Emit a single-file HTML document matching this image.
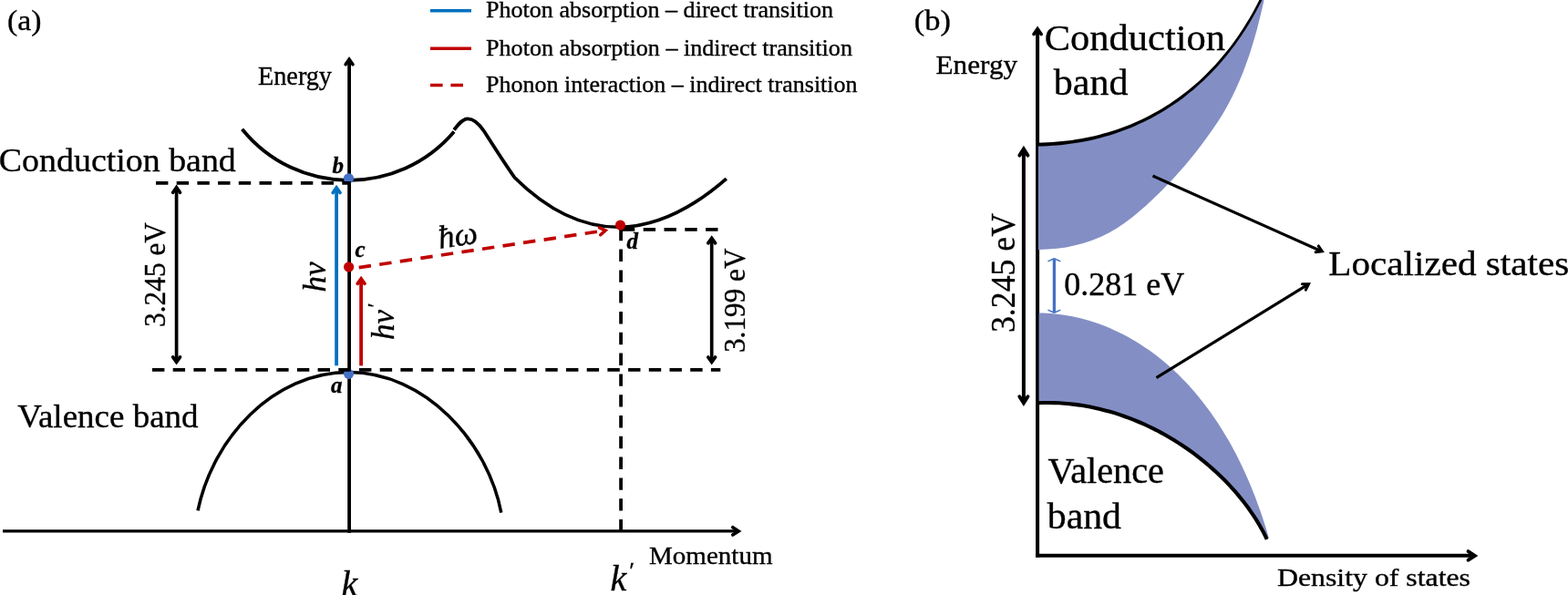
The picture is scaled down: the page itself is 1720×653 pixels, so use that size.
<!DOCTYPE html>
<html lang="en">
<head>
<meta charset="utf-8">
<title>Band structure and density of states</title>
<style>
html,body{margin:0;padding:0;background:#fff;}
body{width:1720px;height:653px;overflow:hidden;}
svg{display:block;}
text{font-family:"Liberation Serif","DejaVu Serif",serif;fill:#000;stroke:#000;stroke-width:0.35px;}
.i{font-style:italic;}
.bi{font-style:italic;font-weight:bold;}
.k{stroke:#000;fill:none;}
</style>
</head>
<body>
<svg width="1720" height="653" viewBox="0 0 1720 653">
<rect width="1720" height="653" fill="#fff"/>

<!-- ================= panel (a) ================= -->
<g id="panel-a">
<line x1="383.1" y1="66.0" x2="383.1" y2="584.7" stroke="#000" stroke-width="3.8"/>
<polyline points="387.00,70.70 383.05,65.04 379.10,70.70" fill="none" stroke="#000" stroke-width="3.6" stroke-linejoin="miter" stroke-miterlimit="10" stroke-linecap="round"/>
<line x1="3.0" y1="582.9" x2="810.0" y2="582.9" stroke="#000" stroke-width="3.3"/>
<polyline points="803.80,587.10 810.21,582.90 803.80,578.70" fill="none" stroke="#000" stroke-width="3.6" stroke-linejoin="miter" stroke-miterlimit="10" stroke-linecap="round"/>
<path class="k" stroke-width="3.8" d="M265.6,141.7 C325.6,216.0 437.3,216.1 498.1,144.5"/>
<path class="k" stroke-width="3.8" d="M498.1,142.5 C503,136 507.5,130.3 513.2,130.3 C520,130.3 525,135 531,144 C540,158 552,177 564.6,195 C644.0,273.6 723.4,260.2 796.8,196.1"/>
<path class="k" stroke-width="3.5" d="M217.0,560.4 C233.5,481.0 299.2,408.6 382.7,408.6 C466.2,408.6 534.8,484.3 549.8,562.6"/>
<line x1="193.6" y1="207.0" x2="193.6" y2="396.0" stroke="#000" stroke-width="3.7"/>
<polyline points="197.50,211.25 193.60,205.78 189.70,211.25" fill="none" stroke="#000" stroke-width="3.7" stroke-linejoin="miter" stroke-miterlimit="10" stroke-linecap="round"/>
<polyline points="189.70,391.85 193.60,397.32 197.50,391.85" fill="none" stroke="#000" stroke-width="3.7" stroke-linejoin="miter" stroke-miterlimit="10" stroke-linecap="round"/>
<line x1="780.7" y1="262.0" x2="780.7" y2="397.0" stroke="#000" stroke-width="3.7"/>
<polyline points="784.60,266.85 780.70,261.38 776.80,266.85" fill="none" stroke="#000" stroke-width="3.7" stroke-linejoin="miter" stroke-miterlimit="10" stroke-linecap="round"/>
<polyline points="776.80,391.95 780.70,397.42 784.60,391.95" fill="none" stroke="#000" stroke-width="3.7" stroke-linejoin="miter" stroke-miterlimit="10" stroke-linecap="round"/>
<line x1="369.1" y1="207.0" x2="369.1" y2="401.3" stroke="#0070C0" stroke-width="3.8"/>
<polyline points="373.00,211.45 369.10,205.98 365.20,211.45" fill="none" stroke="#0070C0" stroke-width="3.7" stroke-linejoin="miter" stroke-miterlimit="10" stroke-linecap="round"/>
<line x1="396.1" y1="307.0" x2="396.1" y2="401.4" stroke="#C00000" stroke-width="3.8"/>
<polyline points="400.00,311.35 396.10,305.88 392.20,311.35" fill="none" stroke="#C00000" stroke-width="3.7" stroke-linejoin="miter" stroke-miterlimit="10" stroke-linecap="round"/>
<line x1="393.7" y1="293.6" x2="662.0" y2="253.2" stroke="#C00000" stroke-width="3.7" stroke-dasharray="13.4 9.4"/>
<polyline points="658.75,257.73 664.16,252.87 657.56,249.82" fill="none" stroke="#C00000" stroke-width="3.5" stroke-linejoin="miter" stroke-miterlimit="10" stroke-linecap="round"/>
<circle cx="382.5" cy="195.8" r="5.6" fill="#4472C4"/>
<circle cx="382.5" cy="410.3" r="5.6" fill="#4472C4"/>
<circle cx="382.6" cy="293" r="5.6" fill="#C00000"/>
<line x1="171.0" y1="200.8" x2="384.8" y2="200.8" stroke="#000" stroke-width="3.8" stroke-dasharray="13.4 9.3"/>
<line x1="167.0" y1="405.8" x2="790.3" y2="405.8" stroke="#000" stroke-width="3.8" stroke-dasharray="13.4 9.3"/>
<line x1="682.9" y1="251.8" x2="788.3" y2="251.8" stroke="#000" stroke-width="3.8" stroke-dasharray="13.4 9.4"/>
<line x1="681.1" y1="250.8" x2="681.1" y2="583.0" stroke="#000" stroke-width="3.8" stroke-dasharray="13.4 9.4"/>
<circle cx="680.5" cy="247" r="5.5" fill="#C00000"/>
<line x1="472.0" y1="11.7" x2="517.0" y2="11.7" stroke="#0070C0" stroke-width="3.5"/>
<line x1="472.0" y1="53.3" x2="517.0" y2="53.3" stroke="#C00000" stroke-width="3.5"/>
<line x1="472.0" y1="93.6" x2="508.0" y2="93.6" stroke="#C00000" stroke-width="3.5" stroke-dasharray="13.6 8.8"/>
<text x="533.0" y="18.5" font-size="25.5" textLength="381.0" lengthAdjust="spacingAndGlyphs">Photon absorption – direct transition</text>
<text x="533.0" y="60.5" font-size="25.5" textLength="402.0" lengthAdjust="spacingAndGlyphs">Photon absorption – indirect transition</text>
<text x="533.0" y="100.5" font-size="25.5" textLength="407.6" lengthAdjust="spacingAndGlyphs">Phonon interaction – indirect transition</text>
<text x="8.0" y="32.5" font-size="32.0" textLength="37.5" lengthAdjust="spacingAndGlyphs">(a)</text>
<text x="283.0" y="92.5" font-size="29.0" textLength="81.0" lengthAdjust="spacingAndGlyphs">Energy</text>
<text x="-1.2" y="188.0" font-size="36.5" textLength="260.0" lengthAdjust="spacingAndGlyphs">Conduction band</text>
<text x="19.3" y="468.5" font-size="36.0" textLength="198.3" lengthAdjust="spacingAndGlyphs">Valence band</text>
<text x="712.0" y="618.7" font-size="28.0" textLength="135.5" lengthAdjust="spacingAndGlyphs">Momentum</text>
<text x="374.5" y="654.0" font-size="40.0" class="i">k</text>
<text x="669.5" y="647.5" font-size="40.0" class="i">k<tspan font-size="26" dy="-13" dx="1.5">′</tspan></text>
<text x="364.5" y="190.3" font-size="25.0" class="bi">b</text>
<text x="389.5" y="282.0" font-size="25.0" class="bi">c</text>
<text x="687.5" y="273.0" font-size="25.0" class="bi">d</text>
<text x="363.0" y="431.0" font-size="25.0" class="bi">a</text>
<text transform="translate(482.3,273.0) rotate(-8.5)" font-size="36.0" class="i">ħω</text>
<text transform="translate(180.5,359.0) rotate(-90.0)" font-size="34.0" textLength="115.0" lengthAdjust="spacingAndGlyphs">3.245 eV</text>
<text transform="translate(817.0,387.0) rotate(-90.0)" font-size="34.0" textLength="114.5" lengthAdjust="spacingAndGlyphs">3.199 eV</text>
<text transform="translate(357.0,320.5) rotate(-90.0)" font-size="35.0" class="i">hν</text>
<text transform="translate(431.5,373.0) rotate(-90.0)" font-size="35.0" class="i">hν<tspan font-size="24" dy="-13" dx="1">′</tspan></text>
</g>
<!-- ================= panel (b) ================= -->
<g id="panel-b">
<line x1="1138.1" y1="33.0" x2="1138.1" y2="611.5" stroke="#000" stroke-width="4.0"/>
<polyline points="1142.15,37.55 1138.10,31.81 1134.05,37.55" fill="none" stroke="#000" stroke-width="3.7" stroke-linejoin="miter" stroke-miterlimit="10" stroke-linecap="round"/>
<line x1="1136.1" y1="609.8" x2="1617.0" y2="609.8" stroke="#000" stroke-width="4.0"/>
<polyline points="1610.55,614.65 1617.83,609.90 1610.55,605.15" fill="none" stroke="#000" stroke-width="3.9" stroke-linejoin="miter" stroke-miterlimit="10" stroke-linecap="round"/>
<polygon fill="#838FC4" points="1139.0,158.6 1143.7,158.5 1149.1,158.2 1154.4,157.9 1159.8,157.5 1165.1,157.0 1170.4,156.4 1175.6,155.7 1180.8,155.0 1185.9,154.1 1191.0,153.1 1196.1,152.1 1201.1,150.9 1206.1,149.7 1211.0,148.4 1215.9,147.0 1220.8,145.5 1225.6,143.9 1230.3,142.2 1235.1,140.4 1239.7,138.6 1244.4,136.6 1248.9,134.6 1253.5,132.5 1258.0,130.3 1262.4,128.0 1266.8,125.6 1271.2,123.1 1275.5,120.6 1279.7,118.0 1283.9,115.2 1288.1,112.4 1292.2,109.6 1296.2,106.6 1300.2,103.5 1304.2,100.4 1308.1,97.2 1311.9,93.9 1315.7,90.5 1319.4,87.0 1323.1,83.5 1326.7,79.9 1330.3,76.2 1333.8,72.4 1337.3,68.5 1340.7,64.6 1344.1,60.6 1347.4,56.5 1350.6,52.3 1353.8,48.0 1356.9,43.7 1360.0,39.3 1363.0,34.8 1365.9,30.2 1368.8,25.6 1371.6,20.8 1374.4,16.0 1377.1,11.2 1379.7,6.2 1382.3,1.2 1384.0,-2.5 1386.9,-2.5 1386.0,2.5 1383.8,12.3 1381.4,22.1 1378.9,31.9 1376.2,41.6 1373.3,51.3 1370.2,61.0 1366.8,70.5 1363.3,80.0 1359.4,89.3 1355.3,98.5 1350.9,107.6 1346.2,116.5 1341.2,125.2 1335.8,133.7 1330.2,142.0 1324.3,150.3 1318.3,158.4 1312.2,166.4 1305.9,174.2 1299.5,182.0 1292.8,189.6 1286.1,197.0 1279.1,204.3 1272.0,211.5 1264.7,218.5 1257.3,225.4 1249.7,232.1 1242.0,238.6 1233.9,244.6 1225.6,250.2 1216.9,255.3 1207.9,259.7 1198.6,263.5 1189.1,266.7 1179.3,269.3 1169.4,271.4 1159.4,272.8 1149.3,273.6 1139.0,273.9"/>
<polygon fill="#838FC4" points="1139.6,343.5 1143.9,343.6 1148.2,343.7 1152.6,344.0 1157.0,344.4 1161.4,344.9 1165.9,345.5 1170.4,346.2 1175.0,347.0 1179.6,348.0 1184.2,349.0 1188.9,350.2 1193.6,351.6 1198.3,353.0 1203.0,354.6 1207.8,356.3 1212.5,358.1 1217.3,360.1 1222.0,362.2 1226.8,364.4 1231.6,366.8 1236.4,369.3 1241.1,372.0 1245.9,374.8 1250.7,377.8 1255.4,380.9 1260.2,384.1 1264.9,387.5 1269.6,391.1 1274.3,394.8 1279.0,398.7 1283.6,402.8 1288.2,407.0 1292.8,411.3 1297.3,415.9 1301.8,420.6 1306.3,425.5 1310.7,430.5 1315.0,435.8 1319.4,441.2 1323.6,446.8 1327.9,452.5 1332.0,458.5 1336.1,464.6 1340.2,470.9 1344.1,477.4 1348.1,484.1 1351.9,491.0 1355.7,498.1 1359.4,505.4 1363.0,512.9 1366.5,520.6 1370.0,528.5 1373.3,536.6 1376.6,544.8 1379.8,553.4 1382.9,562.1 1385.9,571.0 1388.8,580.1 1391.6,589.5 1389.7,591.9 1387.9,588.1 1386.0,584.3 1383.9,580.5 1381.8,576.7 1379.5,572.9 1377.2,569.1 1374.7,565.3 1372.1,561.6 1369.5,557.8 1366.7,554.0 1363.8,550.3 1360.8,546.6 1357.8,542.9 1354.6,539.2 1351.4,535.6 1348.0,531.9 1344.6,528.3 1341.0,524.8 1337.4,521.3 1333.7,517.8 1329.9,514.4 1326.1,511.0 1322.1,507.6 1318.1,504.4 1314.0,501.1 1309.8,497.9 1305.5,494.8 1301.2,491.8 1296.8,488.8 1292.3,485.9 1287.8,483.0 1283.1,480.2 1278.5,477.5 1273.7,474.9 1268.9,472.3 1264.0,469.9 1259.1,467.5 1254.1,465.2 1249.0,463.0 1243.9,460.9 1238.8,458.9 1233.5,457.0 1228.3,455.1 1223.0,453.4 1217.6,451.8 1212.2,450.4 1206.7,449.0 1201.2,447.7 1195.7,446.6 1190.1,445.5 1184.5,444.6 1178.8,443.9 1173.1,443.2 1167.4,442.7 1161.6,442.3 1155.8,442.1 1150.0,442.0 1144.1,442.0 1139.6,442.2"/>
<polygon fill="#000" points="1138.2,160.5 1143.7,160.4 1149.2,160.2 1154.6,159.8 1160.0,159.4 1165.3,158.9 1170.6,158.3 1175.8,157.6 1181.1,156.8 1186.2,155.9 1191.4,154.9 1196.5,153.9 1201.5,152.7 1206.5,151.5 1211.5,150.1 1216.4,148.7 1221.3,147.2 1226.1,145.5 1230.9,143.8 1235.7,142.0 1240.4,140.2 1245.0,138.2 1249.6,136.1 1254.2,134.0 1258.7,131.8 1263.2,129.5 1267.6,127.1 1272.0,124.6 1276.3,122.0 1280.6,119.3 1284.8,116.6 1289.0,113.8 1293.1,110.9 1297.2,107.9 1301.2,104.8 1305.1,101.6 1309.1,98.4 1312.9,95.1 1316.7,91.6 1320.5,88.2 1324.2,84.6 1327.8,80.9 1331.4,77.2 1334.9,73.4 1338.4,69.5 1341.8,65.5 1345.2,61.5 1348.5,57.3 1351.7,53.1 1354.9,48.9 1358.0,44.5 1361.1,40.1 1364.1,35.5 1367.1,30.9 1370.0,26.3 1372.8,21.5 1375.5,16.7 1378.3,11.8 1380.9,6.8 1383.5,1.8 1385.2,-2.0 1382.8,-3.0 1381.1,0.6 1378.6,5.6 1375.9,10.5 1373.2,15.4 1370.4,20.2 1367.6,24.8 1364.7,29.5 1361.8,34.0 1358.8,38.5 1355.7,42.9 1352.6,47.2 1349.5,51.4 1346.2,55.6 1342.9,59.6 1339.6,63.6 1336.2,67.6 1332.7,71.4 1329.2,75.1 1325.7,78.8 1322.0,82.4 1318.4,85.9 1314.7,89.4 1310.9,92.7 1307.0,96.0 1303.2,99.2 1299.2,102.3 1295.3,105.3 1291.2,108.3 1287.1,111.1 1283.0,113.9 1278.8,116.6 1274.6,119.2 1270.3,121.7 1266.0,124.1 1261.6,126.5 1257.2,128.8 1252.7,130.9 1248.2,133.0 1243.7,135.0 1239.1,137.0 1234.4,138.8 1229.7,140.5 1225.0,142.2 1220.2,143.8 1215.4,145.2 1210.5,146.6 1205.6,147.9 1200.7,149.2 1195.7,150.3 1190.7,151.3 1185.6,152.3 1180.5,153.1 1175.3,153.9 1170.1,154.6 1164.9,155.1 1159.6,155.6 1154.3,156.0 1149.0,156.3 1143.6,156.5 1138.2,156.7"/>
<polyline class="k" stroke-width="4.1" points="1138.2,442.2 1144.1,442.0 1150.0,442.0 1155.8,442.1 1161.6,442.3 1167.4,442.7 1173.1,443.2 1178.8,443.9 1184.5,444.6 1190.1,445.5 1195.7,446.6 1201.2,447.7 1206.7,449.0 1212.2,450.4 1217.6,451.8 1223.0,453.4 1228.3,455.1 1233.5,457.0 1238.8,458.9 1243.9,460.9 1249.0,463.0 1254.1,465.2 1259.1,467.5 1264.0,469.9 1268.9,472.3 1273.7,474.9 1278.5,477.5 1283.1,480.2 1287.8,483.0 1292.3,485.9 1296.8,488.8 1301.2,491.8 1305.5,494.8 1309.8,497.9 1314.0,501.1 1318.1,504.4 1322.1,507.6 1326.1,511.0 1329.9,514.4 1333.7,517.8 1337.4,521.3 1341.0,524.8 1344.6,528.3 1348.0,531.9 1351.4,535.6 1354.6,539.2 1357.8,542.9 1360.8,546.6 1363.8,550.3 1366.7,554.0 1369.5,557.8 1372.1,561.6 1374.7,565.3 1377.2,569.1 1379.5,572.9 1381.8,576.7 1383.9,580.5 1386.0,584.3 1387.9,588.1 1389.7,591.9"/>
<line x1="1122.9" y1="165.0" x2="1122.9" y2="441.0" stroke="#000" stroke-width="4.0"/>
<polyline points="1127.45,170.65 1122.90,163.45 1118.35,170.65" fill="none" stroke="#000" stroke-width="3.9" stroke-linejoin="miter" stroke-miterlimit="10" stroke-linecap="round"/>
<polyline points="1118.35,435.25 1122.90,442.45 1127.45,435.25" fill="none" stroke="#000" stroke-width="3.9" stroke-linejoin="miter" stroke-miterlimit="10" stroke-linecap="round"/>
<line x1="1156.4" y1="284.5" x2="1156.4" y2="342.5" stroke="#4472C4" stroke-width="3.3"/>
<polyline points="1150,286.6 1156.4,283.8 1162.8,286.6" fill="none" stroke="#4472C4" stroke-width="1.5" stroke-linecap="round" stroke-linejoin="round"/>
<polyline points="1150,340.4 1156.4,343.2 1162.8,340.4" fill="none" stroke="#4472C4" stroke-width="1.5" stroke-linecap="round" stroke-linejoin="round"/>
<line x1="1264.5" y1="193.0" x2="1449.0" y2="275.5" stroke="#000" stroke-width="3.1"/>
<polyline points="1443.15,276.74 1450.28,275.82 1446.23,269.89" fill="none" stroke="#000" stroke-width="3.0" stroke-linejoin="miter" stroke-miterlimit="10" stroke-linecap="round"/>
<line x1="1268.5" y1="414.6" x2="1434.5" y2="312.4" stroke="#000" stroke-width="3.1"/>
<polyline points="1432.31,318.12 1435.55,311.71 1428.37,311.74" fill="none" stroke="#000" stroke-width="3.0" stroke-linejoin="miter" stroke-miterlimit="10" stroke-linecap="round"/>
<text x="1002.8" y="33.0" font-size="32.0" textLength="40.2" lengthAdjust="spacingAndGlyphs">(b)</text>
<text x="1026.5" y="80.5" font-size="30.0" textLength="89.7" lengthAdjust="spacingAndGlyphs">Energy</text>
<text x="1145.7" y="54.5" font-size="39.5" textLength="198.3" lengthAdjust="spacingAndGlyphs">Conduction</text>
<text x="1155.8" y="103.7" font-size="39.5" textLength="81.7" lengthAdjust="spacingAndGlyphs">band</text>
<text x="1149.5" y="530.0" font-size="39.5" textLength="127.5" lengthAdjust="spacingAndGlyphs">Valence</text>
<text x="1148.8" y="579.5" font-size="39.5" textLength="81.2" lengthAdjust="spacingAndGlyphs">band</text>
<text x="1167.2" y="324.0" font-size="35.5" textLength="132.0" lengthAdjust="spacingAndGlyphs">0.281 eV</text>
<text x="1457.3" y="301.7" font-size="38.5" textLength="264.0" lengthAdjust="spacingAndGlyphs">Localized states</text>
<text x="1401.0" y="643.0" font-size="28.0" textLength="212.0" lengthAdjust="spacingAndGlyphs">Density of states</text>
<text transform="translate(1113.3,365.0) rotate(-90.0)" font-size="37.0" textLength="131.0" lengthAdjust="spacingAndGlyphs">3.245 eV</text>
</g>
</svg>
</body>
</html>
